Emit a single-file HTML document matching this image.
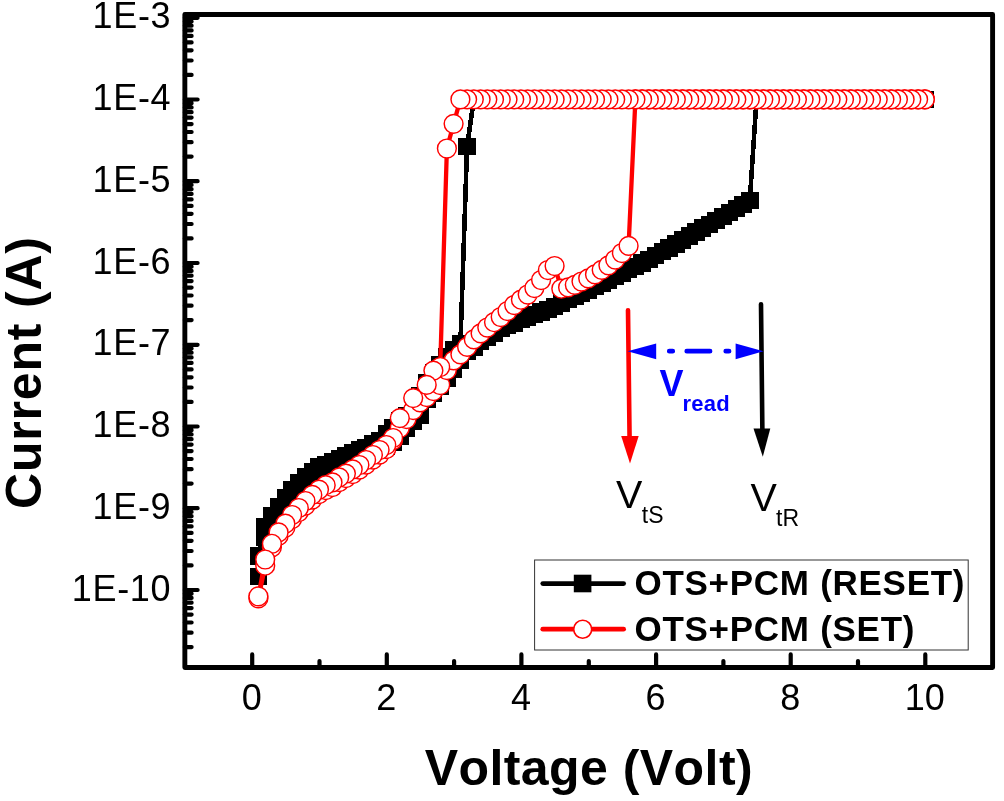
<!DOCTYPE html>
<html lang="en"><head><meta charset="utf-8"><title>OTS+PCM I-V</title>
<style>html,body{margin:0;padding:0;background:#fff}body{width:1004px;height:801px;overflow:hidden}svg{display:block}</style>
</head><body>
<svg width="1004" height="801" viewBox="0 0 1004 801">
<rect x="0" y="0" width="1004" height="801" fill="#fff"/>
<g shape-rendering="crispEdges">
<polyline fill="none" stroke="#000" stroke-width="4.6" stroke-linejoin="round" points="258.4,576.6 265.2,537.0 271.9,529.5 278.6,522.0 285.4,514.5 292.1,507.0 298.8,499.5 305.5,492.0 312.3,484.5 319.0,477.0 325.7,473.9 332.5,470.8 339.2,467.7 345.9,464.6 352.7,461.5 359.4,458.4 366.1,455.3 372.9,452.2 379.6,449.1 386.3,446.0 393.1,442.0 399.8,436.0 406.5,428.0 413.2,421.0 420.0,415.6 426.7,399.6 433.4,392.8 440.2,386.0 446.9,378.6 453.6,369.0 460.4,360.0 467.1,351.0 473.8,347.5 480.6,341.0 487.3,337.0 494.0,333.0 500.7,328.5 507.5,325.5 514.2,323.0 520.9,319.5 527.7,317.0 534.4,314.5 541.1,312.0 547.9,309.5 554.6,306.2 561.3,302.9 568.1,299.6 574.8,296.4 581.5,293.1 588.2,289.8 595.0,286.5 601.7,283.1 608.4,279.8 615.2,276.4 621.9,273.0 628.6,269.6 635.4,266.2 642.1,262.9 648.8,259.5 655.6,255.6 662.3,251.7 669.0,247.7 675.8,243.8 682.5,239.9 689.2,236.0 695.9,232.1 702.7,228.1 709.4,224.2 716.1,220.3 722.9,216.4 729.6,212.5 736.3,208.5 743.1,204.6 749.8,200.7 756.5,99.4 763.3,99.4 770.0,99.4 776.7,99.4 783.4,99.4 790.2,99.4 796.9,99.4 803.6,99.4 810.4,99.4 817.1,99.4 823.8,99.4 830.6,99.4 837.3,99.4 844.0,99.4 850.8,99.4 857.5,99.4 864.2,99.4 871.0,99.4 877.7,99.4 884.4,99.4 891.1,99.4 897.9,99.4 904.6,99.4 911.3,99.4 918.1,99.4 924.8,99.4 924.8,99.4 918.1,99.4 911.3,99.4 904.6,99.4 897.9,99.4 891.1,99.4 884.4,99.4 877.7,99.4 871.0,99.4 864.2,99.4 857.5,99.4 850.8,99.4 844.0,99.4 837.3,99.4 830.6,99.4 823.8,99.4 817.1,99.4 810.4,99.4 803.6,99.4 796.9,99.4 790.2,99.4 783.4,99.4 776.7,99.4 770.0,99.4 763.3,99.4 756.5,99.4 749.8,99.4 743.1,99.4 736.3,99.4 729.6,99.4 722.9,99.4 716.1,99.4 709.4,99.4 702.7,99.4 695.9,99.4 689.2,99.4 682.5,99.4 675.8,99.4 669.0,99.4 662.3,99.4 655.6,99.4 648.8,99.4 642.1,99.4 635.4,99.4 628.6,99.4 621.9,99.4 615.2,99.4 608.4,99.4 601.7,99.4 595.0,99.4 588.2,99.4 581.5,99.4 574.8,99.4 568.1,99.4 561.3,99.4 554.6,99.4 547.9,99.4 541.1,99.4 534.4,99.4 527.7,99.4 520.9,99.4 514.2,99.4 507.5,99.4 500.7,99.4 494.0,99.4 487.3,99.4 480.6,99.4 473.8,99.4 467.1,146.3 460.4,344.0 453.6,350.0 446.9,357.0 440.2,365.0 433.4,373.0 426.7,382.4 420.0,395.5 413.2,405.0 406.5,415.6 399.8,421.0 393.1,428.0 386.3,434.0 379.6,440.4 372.9,444.0 366.1,447.3 359.4,450.0 352.7,452.8 345.9,455.5 339.2,458.3 332.5,461.5 325.7,464.6 319.0,467.0 312.3,472.0 305.5,476.9 298.8,482.4 292.1,489.3 285.4,498.0 278.6,506.3 271.9,515.9 265.2,526.9 258.4,555.8"/>
<path fill="#000" d="M249.7 567.9h17.5v17.5h-17.5zM256.4 528.2h17.5v17.5h-17.5zM263.1 520.8h17.5v17.5h-17.5zM269.9 513.2h17.5v17.5h-17.5zM276.6 505.8h17.5v17.5h-17.5zM283.3 498.2h17.5v17.5h-17.5zM290.1 490.8h17.5v17.5h-17.5zM296.8 483.2h17.5v17.5h-17.5zM303.5 475.8h17.5v17.5h-17.5zM310.3 468.2h17.5v17.5h-17.5zM317.0 465.1h17.5v17.5h-17.5zM323.7 462.1h17.5v17.5h-17.5zM330.5 458.9h17.5v17.5h-17.5zM337.2 455.9h17.5v17.5h-17.5zM343.9 452.8h17.5v17.5h-17.5zM350.6 449.6h17.5v17.5h-17.5zM357.4 446.6h17.5v17.5h-17.5zM364.1 443.4h17.5v17.5h-17.5zM370.8 440.4h17.5v17.5h-17.5zM377.6 437.2h17.5v17.5h-17.5zM384.3 433.2h17.5v17.5h-17.5zM391.0 427.2h17.5v17.5h-17.5zM397.8 419.2h17.5v17.5h-17.5zM404.5 412.2h17.5v17.5h-17.5zM411.2 406.9h17.5v17.5h-17.5zM418.0 390.9h17.5v17.5h-17.5zM424.7 384.1h17.5v17.5h-17.5zM431.4 377.2h17.5v17.5h-17.5zM438.1 369.9h17.5v17.5h-17.5zM444.9 360.2h17.5v17.5h-17.5zM451.6 351.2h17.5v17.5h-17.5zM458.3 342.2h17.5v17.5h-17.5zM465.1 338.8h17.5v17.5h-17.5zM471.8 332.2h17.5v17.5h-17.5zM478.5 328.2h17.5v17.5h-17.5zM485.3 324.2h17.5v17.5h-17.5zM492.0 319.8h17.5v17.5h-17.5zM498.7 316.8h17.5v17.5h-17.5zM505.5 314.2h17.5v17.5h-17.5zM512.2 310.8h17.5v17.5h-17.5zM518.9 308.2h17.5v17.5h-17.5zM525.7 305.8h17.5v17.5h-17.5zM532.4 303.2h17.5v17.5h-17.5zM539.1 300.8h17.5v17.5h-17.5zM545.8 297.5h17.5v17.5h-17.5zM552.6 294.2h17.5v17.5h-17.5zM559.3 290.9h17.5v17.5h-17.5zM566.0 287.6h17.5v17.5h-17.5zM572.8 284.3h17.5v17.5h-17.5zM579.5 281.0h17.5v17.5h-17.5zM586.2 277.8h17.5v17.5h-17.5zM593.0 274.4h17.5v17.5h-17.5zM599.7 271.0h17.5v17.5h-17.5zM606.4 267.6h17.5v17.5h-17.5zM613.2 264.2h17.5v17.5h-17.5zM619.9 260.9h17.5v17.5h-17.5zM626.6 257.5h17.5v17.5h-17.5zM633.3 254.1h17.5v17.5h-17.5zM640.1 250.8h17.5v17.5h-17.5zM646.8 246.8h17.5v17.5h-17.5zM653.5 242.9h17.5v17.5h-17.5zM660.3 239.0h17.5v17.5h-17.5zM667.0 235.1h17.5v17.5h-17.5zM673.7 231.2h17.5v17.5h-17.5zM680.5 227.2h17.5v17.5h-17.5zM687.2 223.3h17.5v17.5h-17.5zM693.9 219.4h17.5v17.5h-17.5zM700.7 215.5h17.5v17.5h-17.5zM707.4 211.6h17.5v17.5h-17.5zM714.1 207.6h17.5v17.5h-17.5zM720.9 203.7h17.5v17.5h-17.5zM727.6 199.8h17.5v17.5h-17.5zM734.3 195.9h17.5v17.5h-17.5zM741.0 191.9h17.5v17.5h-17.5zM747.8 90.7h17.5v17.5h-17.5zM754.5 90.7h17.5v17.5h-17.5zM761.2 90.7h17.5v17.5h-17.5zM768.0 90.7h17.5v17.5h-17.5zM774.7 90.7h17.5v17.5h-17.5zM781.4 90.7h17.5v17.5h-17.5zM788.2 90.7h17.5v17.5h-17.5zM794.9 90.7h17.5v17.5h-17.5zM801.6 90.7h17.5v17.5h-17.5zM808.4 90.7h17.5v17.5h-17.5zM815.1 90.7h17.5v17.5h-17.5zM821.8 90.7h17.5v17.5h-17.5zM828.5 90.7h17.5v17.5h-17.5zM835.3 90.7h17.5v17.5h-17.5zM842.0 90.7h17.5v17.5h-17.5zM848.7 90.7h17.5v17.5h-17.5zM855.5 90.7h17.5v17.5h-17.5zM862.2 90.7h17.5v17.5h-17.5zM868.9 90.7h17.5v17.5h-17.5zM875.7 90.7h17.5v17.5h-17.5zM882.4 90.7h17.5v17.5h-17.5zM889.1 90.7h17.5v17.5h-17.5zM895.9 90.7h17.5v17.5h-17.5zM902.6 90.7h17.5v17.5h-17.5zM909.3 90.7h17.5v17.5h-17.5zM916.0 90.7h17.5v17.5h-17.5zM916.0 90.7h17.5v17.5h-17.5zM909.3 90.7h17.5v17.5h-17.5zM902.6 90.7h17.5v17.5h-17.5zM895.9 90.7h17.5v17.5h-17.5zM889.1 90.7h17.5v17.5h-17.5zM882.4 90.7h17.5v17.5h-17.5zM875.7 90.7h17.5v17.5h-17.5zM868.9 90.7h17.5v17.5h-17.5zM862.2 90.7h17.5v17.5h-17.5zM855.5 90.7h17.5v17.5h-17.5zM848.7 90.7h17.5v17.5h-17.5zM842.0 90.7h17.5v17.5h-17.5zM835.3 90.7h17.5v17.5h-17.5zM828.5 90.7h17.5v17.5h-17.5zM821.8 90.7h17.5v17.5h-17.5zM815.1 90.7h17.5v17.5h-17.5zM808.4 90.7h17.5v17.5h-17.5zM801.6 90.7h17.5v17.5h-17.5zM794.9 90.7h17.5v17.5h-17.5zM788.2 90.7h17.5v17.5h-17.5zM781.4 90.7h17.5v17.5h-17.5zM774.7 90.7h17.5v17.5h-17.5zM768.0 90.7h17.5v17.5h-17.5zM761.2 90.7h17.5v17.5h-17.5zM754.5 90.7h17.5v17.5h-17.5zM747.8 90.7h17.5v17.5h-17.5zM741.0 90.7h17.5v17.5h-17.5zM734.3 90.7h17.5v17.5h-17.5zM727.6 90.7h17.5v17.5h-17.5zM720.9 90.7h17.5v17.5h-17.5zM714.1 90.7h17.5v17.5h-17.5zM707.4 90.7h17.5v17.5h-17.5zM700.7 90.7h17.5v17.5h-17.5zM693.9 90.7h17.5v17.5h-17.5zM687.2 90.7h17.5v17.5h-17.5zM680.5 90.7h17.5v17.5h-17.5zM673.7 90.7h17.5v17.5h-17.5zM667.0 90.7h17.5v17.5h-17.5zM660.3 90.7h17.5v17.5h-17.5zM653.5 90.7h17.5v17.5h-17.5zM646.8 90.7h17.5v17.5h-17.5zM640.1 90.7h17.5v17.5h-17.5zM633.3 90.7h17.5v17.5h-17.5zM626.6 90.7h17.5v17.5h-17.5zM619.9 90.7h17.5v17.5h-17.5zM613.2 90.7h17.5v17.5h-17.5zM606.4 90.7h17.5v17.5h-17.5zM599.7 90.7h17.5v17.5h-17.5zM593.0 90.7h17.5v17.5h-17.5zM586.2 90.7h17.5v17.5h-17.5zM579.5 90.7h17.5v17.5h-17.5zM572.8 90.7h17.5v17.5h-17.5zM566.0 90.7h17.5v17.5h-17.5zM559.3 90.7h17.5v17.5h-17.5zM552.6 90.7h17.5v17.5h-17.5zM545.8 90.7h17.5v17.5h-17.5zM539.1 90.7h17.5v17.5h-17.5zM532.4 90.7h17.5v17.5h-17.5zM525.7 90.7h17.5v17.5h-17.5zM518.9 90.7h17.5v17.5h-17.5zM512.2 90.7h17.5v17.5h-17.5zM505.5 90.7h17.5v17.5h-17.5zM498.7 90.7h17.5v17.5h-17.5zM492.0 90.7h17.5v17.5h-17.5zM485.3 90.7h17.5v17.5h-17.5zM478.5 90.7h17.5v17.5h-17.5zM471.8 90.7h17.5v17.5h-17.5zM465.1 90.7h17.5v17.5h-17.5zM458.3 137.6h17.5v17.5h-17.5zM451.6 335.2h17.5v17.5h-17.5zM444.9 341.2h17.5v17.5h-17.5zM438.1 348.2h17.5v17.5h-17.5zM431.4 356.2h17.5v17.5h-17.5zM424.7 364.2h17.5v17.5h-17.5zM418.0 373.6h17.5v17.5h-17.5zM411.2 386.8h17.5v17.5h-17.5zM404.5 396.2h17.5v17.5h-17.5zM397.8 406.9h17.5v17.5h-17.5zM391.0 412.2h17.5v17.5h-17.5zM384.3 419.2h17.5v17.5h-17.5zM377.6 425.2h17.5v17.5h-17.5zM370.8 431.6h17.5v17.5h-17.5zM364.1 435.2h17.5v17.5h-17.5zM357.4 438.6h17.5v17.5h-17.5zM350.6 441.2h17.5v17.5h-17.5zM343.9 444.1h17.5v17.5h-17.5zM337.2 446.8h17.5v17.5h-17.5zM330.5 449.6h17.5v17.5h-17.5zM323.7 452.8h17.5v17.5h-17.5zM317.0 455.9h17.5v17.5h-17.5zM310.3 458.2h17.5v17.5h-17.5zM303.5 463.2h17.5v17.5h-17.5zM296.8 468.1h17.5v17.5h-17.5zM290.1 473.6h17.5v17.5h-17.5zM283.3 480.6h17.5v17.5h-17.5zM276.6 489.2h17.5v17.5h-17.5zM269.9 497.6h17.5v17.5h-17.5zM263.1 507.1h17.5v17.5h-17.5zM256.4 518.1h17.5v17.5h-17.5zM249.7 547.0h17.5v17.5h-17.5z"/>
</g>
<polyline fill="none" stroke="#f00" stroke-width="4.3" stroke-linejoin="round" points="258.4,598.4 265.2,565.7 271.9,547.3 278.6,535.9 285.4,527.5 292.1,519.0 298.8,512.0 305.5,505.5 312.3,499.5 319.0,494.0 325.7,490.0 332.5,487.0 339.2,482.0 345.9,478.0 352.7,474.0 359.4,469.5 366.1,464.5 372.9,459.5 379.6,454.5 386.3,449.0 393.1,440.0 399.8,428.0 406.5,419.0 413.2,410.0 420.0,402.4 426.7,397.0 433.4,391.0 440.2,385.0 446.9,370.0 453.6,360.4 460.4,354.4 467.1,346.9 473.8,339.4 480.6,333.4 487.3,327.5 494.0,322.2 500.7,317.0 507.5,311.0 514.2,305.0 520.9,299.7 527.7,294.5 534.4,288.0 541.1,280.0 547.9,270.0 554.6,266.0 561.3,288.7 568.1,287.4 574.8,284.8 581.5,281.5 588.2,278.3 595.0,274.4 601.7,269.9 608.4,265.3 615.2,259.5 621.9,253.0 628.6,245.9 635.4,99.4 642.1,99.4 648.8,99.4 655.6,99.4 662.3,99.4 669.0,99.4 675.8,99.4 682.5,99.4 689.2,99.4 695.9,99.4 702.7,99.4 709.4,99.4 716.1,99.4 722.9,99.4 729.6,99.4 736.3,99.4 743.1,99.4 749.8,99.4 756.5,99.4 763.3,99.4 770.0,99.4 776.7,99.4 783.4,99.4 790.2,99.4 796.9,99.4 803.6,99.4 810.4,99.4 817.1,99.4 823.8,99.4 830.6,99.4 837.3,99.4 844.0,99.4 850.8,99.4 857.5,99.4 864.2,99.4 871.0,99.4 877.7,99.4 884.4,99.4 891.1,99.4 897.9,99.4 904.6,99.4 911.3,99.4 918.1,99.4 924.8,99.4 924.8,99.4 918.1,99.4 911.3,99.4 904.6,99.4 897.9,99.4 891.1,99.4 884.4,99.4 877.7,99.4 871.0,99.4 864.2,99.4 857.5,99.4 850.8,99.4 844.0,99.4 837.3,99.4 830.6,99.4 823.8,99.4 817.1,99.4 810.4,99.4 803.6,99.4 796.9,99.4 790.2,99.4 783.4,99.4 776.7,99.4 770.0,99.4 763.3,99.4 756.5,99.4 749.8,99.4 743.1,99.4 736.3,99.4 729.6,99.4 722.9,99.4 716.1,99.4 709.4,99.4 702.7,99.4 695.9,99.4 689.2,99.4 682.5,99.4 675.8,99.4 669.0,99.4 662.3,99.4 655.6,99.4 648.8,99.4 642.1,99.4 635.4,99.4 628.6,99.4 621.9,99.4 615.2,99.4 608.4,99.4 601.7,99.4 595.0,99.4 588.2,99.4 581.5,99.4 574.8,99.4 568.1,99.4 561.3,99.4 554.6,99.4 547.9,99.4 541.1,99.4 534.4,99.4 527.7,99.4 520.9,99.4 514.2,99.4 507.5,99.4 500.7,99.4 494.0,99.4 487.3,99.4 480.6,99.4 473.8,99.4 467.1,99.4 460.4,99.4 453.6,123.8 446.9,148.5 440.2,367.0 433.4,370.6 426.7,384.9 413.2,398.1 399.8,418.1 393.1,438.0 386.3,445.0 379.6,450.0 372.9,455.0 366.1,460.0 359.4,465.0 352.7,469.3 345.9,473.6 339.2,477.4 332.5,482.4 325.7,485.2 319.0,489.6 312.3,494.9 305.5,501.0 298.8,508.0 292.1,515.0 285.4,523.7 278.6,532.4 271.9,543.8 265.2,559.5 258.4,596.4"/>
<g fill="#fff" stroke="#f00" stroke-width="1.45">
<circle cx="258.4" cy="598.4" r="9.4"/>
<circle cx="265.2" cy="565.7" r="9.4"/>
<circle cx="271.9" cy="547.3" r="9.4"/>
<circle cx="278.6" cy="535.9" r="9.4"/>
<circle cx="285.4" cy="527.5" r="9.4"/>
<circle cx="292.1" cy="519.0" r="9.4"/>
<circle cx="298.8" cy="512.0" r="9.4"/>
<circle cx="305.5" cy="505.5" r="9.4"/>
<circle cx="312.3" cy="499.5" r="9.4"/>
<circle cx="319.0" cy="494.0" r="9.4"/>
<circle cx="325.7" cy="490.0" r="9.4"/>
<circle cx="332.5" cy="487.0" r="9.4"/>
<circle cx="339.2" cy="482.0" r="9.4"/>
<circle cx="345.9" cy="478.0" r="9.4"/>
<circle cx="352.7" cy="474.0" r="9.4"/>
<circle cx="359.4" cy="469.5" r="9.4"/>
<circle cx="366.1" cy="464.5" r="9.4"/>
<circle cx="372.9" cy="459.5" r="9.4"/>
<circle cx="379.6" cy="454.5" r="9.4"/>
<circle cx="386.3" cy="449.0" r="9.4"/>
<circle cx="393.1" cy="440.0" r="9.4"/>
<circle cx="399.8" cy="428.0" r="9.4"/>
<circle cx="406.5" cy="419.0" r="9.4"/>
<circle cx="413.2" cy="410.0" r="9.4"/>
<circle cx="420.0" cy="402.4" r="9.4"/>
<circle cx="426.7" cy="397.0" r="9.4"/>
<circle cx="433.4" cy="391.0" r="9.4"/>
<circle cx="440.2" cy="385.0" r="9.4"/>
<circle cx="446.9" cy="370.0" r="9.4"/>
<circle cx="453.6" cy="360.4" r="9.4"/>
<circle cx="460.4" cy="354.4" r="9.4"/>
<circle cx="467.1" cy="346.9" r="9.4"/>
<circle cx="473.8" cy="339.4" r="9.4"/>
<circle cx="480.6" cy="333.4" r="9.4"/>
<circle cx="487.3" cy="327.5" r="9.4"/>
<circle cx="494.0" cy="322.2" r="9.4"/>
<circle cx="500.7" cy="317.0" r="9.4"/>
<circle cx="507.5" cy="311.0" r="9.4"/>
<circle cx="514.2" cy="305.0" r="9.4"/>
<circle cx="520.9" cy="299.7" r="9.4"/>
<circle cx="527.7" cy="294.5" r="9.4"/>
<circle cx="534.4" cy="288.0" r="9.4"/>
<circle cx="541.1" cy="280.0" r="9.4"/>
<circle cx="547.9" cy="270.0" r="9.4"/>
<circle cx="554.6" cy="266.0" r="9.4"/>
<circle cx="561.3" cy="288.7" r="9.4"/>
<circle cx="568.1" cy="287.4" r="9.4"/>
<circle cx="574.8" cy="284.8" r="9.4"/>
<circle cx="581.5" cy="281.5" r="9.4"/>
<circle cx="588.2" cy="278.3" r="9.4"/>
<circle cx="595.0" cy="274.4" r="9.4"/>
<circle cx="601.7" cy="269.9" r="9.4"/>
<circle cx="608.4" cy="265.3" r="9.4"/>
<circle cx="615.2" cy="259.5" r="9.4"/>
<circle cx="621.9" cy="253.0" r="9.4"/>
<circle cx="628.6" cy="245.9" r="9.4"/>
<circle cx="635.4" cy="99.4" r="9.4"/>
<circle cx="642.1" cy="99.4" r="9.4"/>
<circle cx="648.8" cy="99.4" r="9.4"/>
<circle cx="655.6" cy="99.4" r="9.4"/>
<circle cx="662.3" cy="99.4" r="9.4"/>
<circle cx="669.0" cy="99.4" r="9.4"/>
<circle cx="675.8" cy="99.4" r="9.4"/>
<circle cx="682.5" cy="99.4" r="9.4"/>
<circle cx="689.2" cy="99.4" r="9.4"/>
<circle cx="695.9" cy="99.4" r="9.4"/>
<circle cx="702.7" cy="99.4" r="9.4"/>
<circle cx="709.4" cy="99.4" r="9.4"/>
<circle cx="716.1" cy="99.4" r="9.4"/>
<circle cx="722.9" cy="99.4" r="9.4"/>
<circle cx="729.6" cy="99.4" r="9.4"/>
<circle cx="736.3" cy="99.4" r="9.4"/>
<circle cx="743.1" cy="99.4" r="9.4"/>
<circle cx="749.8" cy="99.4" r="9.4"/>
<circle cx="756.5" cy="99.4" r="9.4"/>
<circle cx="763.3" cy="99.4" r="9.4"/>
<circle cx="770.0" cy="99.4" r="9.4"/>
<circle cx="776.7" cy="99.4" r="9.4"/>
<circle cx="783.4" cy="99.4" r="9.4"/>
<circle cx="790.2" cy="99.4" r="9.4"/>
<circle cx="796.9" cy="99.4" r="9.4"/>
<circle cx="803.6" cy="99.4" r="9.4"/>
<circle cx="810.4" cy="99.4" r="9.4"/>
<circle cx="817.1" cy="99.4" r="9.4"/>
<circle cx="823.8" cy="99.4" r="9.4"/>
<circle cx="830.6" cy="99.4" r="9.4"/>
<circle cx="837.3" cy="99.4" r="9.4"/>
<circle cx="844.0" cy="99.4" r="9.4"/>
<circle cx="850.8" cy="99.4" r="9.4"/>
<circle cx="857.5" cy="99.4" r="9.4"/>
<circle cx="864.2" cy="99.4" r="9.4"/>
<circle cx="871.0" cy="99.4" r="9.4"/>
<circle cx="877.7" cy="99.4" r="9.4"/>
<circle cx="884.4" cy="99.4" r="9.4"/>
<circle cx="891.1" cy="99.4" r="9.4"/>
<circle cx="897.9" cy="99.4" r="9.4"/>
<circle cx="904.6" cy="99.4" r="9.4"/>
<circle cx="911.3" cy="99.4" r="9.4"/>
<circle cx="918.1" cy="99.4" r="9.4"/>
<circle cx="924.8" cy="99.4" r="9.4"/>
<circle cx="924.8" cy="99.4" r="9.4"/>
<circle cx="918.1" cy="99.4" r="9.4"/>
<circle cx="911.3" cy="99.4" r="9.4"/>
<circle cx="904.6" cy="99.4" r="9.4"/>
<circle cx="897.9" cy="99.4" r="9.4"/>
<circle cx="891.1" cy="99.4" r="9.4"/>
<circle cx="884.4" cy="99.4" r="9.4"/>
<circle cx="877.7" cy="99.4" r="9.4"/>
<circle cx="871.0" cy="99.4" r="9.4"/>
<circle cx="864.2" cy="99.4" r="9.4"/>
<circle cx="857.5" cy="99.4" r="9.4"/>
<circle cx="850.8" cy="99.4" r="9.4"/>
<circle cx="844.0" cy="99.4" r="9.4"/>
<circle cx="837.3" cy="99.4" r="9.4"/>
<circle cx="830.6" cy="99.4" r="9.4"/>
<circle cx="823.8" cy="99.4" r="9.4"/>
<circle cx="817.1" cy="99.4" r="9.4"/>
<circle cx="810.4" cy="99.4" r="9.4"/>
<circle cx="803.6" cy="99.4" r="9.4"/>
<circle cx="796.9" cy="99.4" r="9.4"/>
<circle cx="790.2" cy="99.4" r="9.4"/>
<circle cx="783.4" cy="99.4" r="9.4"/>
<circle cx="776.7" cy="99.4" r="9.4"/>
<circle cx="770.0" cy="99.4" r="9.4"/>
<circle cx="763.3" cy="99.4" r="9.4"/>
<circle cx="756.5" cy="99.4" r="9.4"/>
<circle cx="749.8" cy="99.4" r="9.4"/>
<circle cx="743.1" cy="99.4" r="9.4"/>
<circle cx="736.3" cy="99.4" r="9.4"/>
<circle cx="729.6" cy="99.4" r="9.4"/>
<circle cx="722.9" cy="99.4" r="9.4"/>
<circle cx="716.1" cy="99.4" r="9.4"/>
<circle cx="709.4" cy="99.4" r="9.4"/>
<circle cx="702.7" cy="99.4" r="9.4"/>
<circle cx="695.9" cy="99.4" r="9.4"/>
<circle cx="689.2" cy="99.4" r="9.4"/>
<circle cx="682.5" cy="99.4" r="9.4"/>
<circle cx="675.8" cy="99.4" r="9.4"/>
<circle cx="669.0" cy="99.4" r="9.4"/>
<circle cx="662.3" cy="99.4" r="9.4"/>
<circle cx="655.6" cy="99.4" r="9.4"/>
<circle cx="648.8" cy="99.4" r="9.4"/>
<circle cx="642.1" cy="99.4" r="9.4"/>
<circle cx="635.4" cy="99.4" r="9.4"/>
<circle cx="628.6" cy="99.4" r="9.4"/>
<circle cx="621.9" cy="99.4" r="9.4"/>
<circle cx="615.2" cy="99.4" r="9.4"/>
<circle cx="608.4" cy="99.4" r="9.4"/>
<circle cx="601.7" cy="99.4" r="9.4"/>
<circle cx="595.0" cy="99.4" r="9.4"/>
<circle cx="588.2" cy="99.4" r="9.4"/>
<circle cx="581.5" cy="99.4" r="9.4"/>
<circle cx="574.8" cy="99.4" r="9.4"/>
<circle cx="568.1" cy="99.4" r="9.4"/>
<circle cx="561.3" cy="99.4" r="9.4"/>
<circle cx="554.6" cy="99.4" r="9.4"/>
<circle cx="547.9" cy="99.4" r="9.4"/>
<circle cx="541.1" cy="99.4" r="9.4"/>
<circle cx="534.4" cy="99.4" r="9.4"/>
<circle cx="527.7" cy="99.4" r="9.4"/>
<circle cx="520.9" cy="99.4" r="9.4"/>
<circle cx="514.2" cy="99.4" r="9.4"/>
<circle cx="507.5" cy="99.4" r="9.4"/>
<circle cx="500.7" cy="99.4" r="9.4"/>
<circle cx="494.0" cy="99.4" r="9.4"/>
<circle cx="487.3" cy="99.4" r="9.4"/>
<circle cx="480.6" cy="99.4" r="9.4"/>
<circle cx="473.8" cy="99.4" r="9.4"/>
<circle cx="467.1" cy="99.4" r="9.4"/>
<circle cx="460.4" cy="99.4" r="9.4"/>
<circle cx="453.6" cy="123.8" r="9.4"/>
<circle cx="446.9" cy="148.5" r="9.4"/>
<circle cx="440.2" cy="367.0" r="9.4"/>
<circle cx="433.4" cy="370.6" r="9.4"/>
<circle cx="426.7" cy="384.9" r="9.4"/>
<circle cx="413.2" cy="398.1" r="9.4"/>
<circle cx="399.8" cy="418.1" r="9.4"/>
<circle cx="393.1" cy="438.0" r="9.4"/>
<circle cx="386.3" cy="445.0" r="9.4"/>
<circle cx="379.6" cy="450.0" r="9.4"/>
<circle cx="372.9" cy="455.0" r="9.4"/>
<circle cx="366.1" cy="460.0" r="9.4"/>
<circle cx="359.4" cy="465.0" r="9.4"/>
<circle cx="352.7" cy="469.3" r="9.4"/>
<circle cx="345.9" cy="473.6" r="9.4"/>
<circle cx="339.2" cy="477.4" r="9.4"/>
<circle cx="332.5" cy="482.4" r="9.4"/>
<circle cx="325.7" cy="485.2" r="9.4"/>
<circle cx="319.0" cy="489.6" r="9.4"/>
<circle cx="312.3" cy="494.9" r="9.4"/>
<circle cx="305.5" cy="501.0" r="9.4"/>
<circle cx="298.8" cy="508.0" r="9.4"/>
<circle cx="292.1" cy="515.0" r="9.4"/>
<circle cx="285.4" cy="523.7" r="9.4"/>
<circle cx="278.6" cy="532.4" r="9.4"/>
<circle cx="271.9" cy="543.8" r="9.4"/>
<circle cx="265.2" cy="559.5" r="9.4"/>
<circle cx="258.4" cy="596.4" r="9.4"/>
</g>
<rect x="184.85" y="14.5" width="807.75" height="653.0" fill="none" stroke="#000" stroke-width="4.9" stroke-linejoin="round"/>
<path d="M184.85 17.8H197.6M184.85 99.5H197.6M184.85 181.2H197.6M184.85 263.0H197.6M184.85 344.8H197.6M184.85 426.5H197.6M184.85 508.2H197.6M184.85 590.0H197.6M184.85 74.9H191.6M184.85 60.5H191.6M184.85 50.3H191.6M184.85 42.4H191.6M184.85 35.9H191.6M184.85 30.4H191.6M184.85 25.7H191.6M184.85 21.5H191.6M184.85 156.6H191.6M184.85 142.2H191.6M184.85 132.0H191.6M184.85 124.1H191.6M184.85 117.6H191.6M184.85 112.2H191.6M184.85 107.4H191.6M184.85 103.2H191.6M184.85 238.4H191.6M184.85 224.0H191.6M184.85 213.8H191.6M184.85 205.9H191.6M184.85 199.4H191.6M184.85 193.9H191.6M184.85 189.2H191.6M184.85 185.0H191.6M184.85 320.1H191.6M184.85 305.7H191.6M184.85 295.5H191.6M184.85 287.6H191.6M184.85 281.1H191.6M184.85 275.7H191.6M184.85 270.9H191.6M184.85 266.7H191.6M184.85 401.9H191.6M184.85 387.5H191.6M184.85 377.3H191.6M184.85 369.4H191.6M184.85 362.9H191.6M184.85 357.4H191.6M184.85 352.7H191.6M184.85 348.5H191.6M184.85 483.6H191.6M184.85 469.2H191.6M184.85 459.0H191.6M184.85 451.1H191.6M184.85 444.6H191.6M184.85 439.2H191.6M184.85 434.4H191.6M184.85 430.2H191.6M184.85 565.4H191.6M184.85 551.0H191.6M184.85 540.8H191.6M184.85 532.9H191.6M184.85 526.4H191.6M184.85 520.9H191.6M184.85 516.2H191.6M184.85 512.0H191.6M184.85 647.1H191.6M184.85 632.7H191.6M184.85 622.5H191.6M184.85 614.6H191.6M184.85 608.1H191.6M184.85 602.7H191.6M184.85 597.9H191.6M184.85 593.7H191.6M252.2 667.5V654.4M319.5 667.5V661M386.8 667.5V654.4M454.1 667.5V661M521.4 667.5V654.4M588.8 667.5V661M656.1 667.5V654.4M723.4 667.5V661M790.7 667.5V654.4M858.0 667.5V661M925.3 667.5V654.4" fill="none" stroke="#000" stroke-width="4.2" stroke-linecap="round"/>
<g font-family="'Liberation Sans',Arial,sans-serif" font-size="36" fill="#000" style="font-kerning:none">
<g text-anchor="end" letter-spacing="0.7">
<text x="171.3" y="28.4">1E-3</text>
<text x="171.3" y="110.1">1E-4</text>
<text x="171.3" y="191.8">1E-5</text>
<text x="171.3" y="273.6">1E-6</text>
<text x="171.3" y="355.4">1E-7</text>
<text x="171.3" y="437.1">1E-8</text>
<text x="171.3" y="518.9">1E-9</text>
<text x="171.3" y="600.6">1E-10</text>
</g><g text-anchor="middle">
<text x="251.7" y="710.4">0</text>
<text x="386.3" y="710.4">2</text>
<text x="520.9" y="710.4">4</text>
<text x="655.6" y="710.4">6</text>
<text x="790.2" y="710.4">8</text>
<text x="924.8" y="710.4">10</text>
</g></g>
<g font-family="'Liberation Sans',Arial,sans-serif" font-weight="bold" font-size="50" fill="#000" style="font-kerning:none">
<text x="588.9" y="784.8" text-anchor="middle" letter-spacing="0.45">Voltage (Volt)</text>
<text transform="translate(40.5 372.6) rotate(-90)" text-anchor="middle" letter-spacing="0.8">Current (A)</text>
</g>
<line x1="628" y1="310.3" x2="629.6" y2="440" stroke="#f00" stroke-width="4.6" stroke-linecap="round"/>
<polygon points="621.2,436 638.7,436 630,463.5" fill="#f00"/>
<line x1="761" y1="304.3" x2="762.4" y2="432" stroke="#000" stroke-width="4.6" stroke-linecap="round"/>
<polygon points="753.5,428.6 770.3,428.6 762.8,456.8" fill="#000"/>
<g fill="#00f" stroke="none">
<polygon points="627.5,351.2 656.2,343.5 656.2,359.2"/>
<polygon points="763.5,351.2 735.6,343.5 735.6,359.2"/>
</g>
<path d="M669.3 351.2H672.7M686.8 351.2H710M725.8 351.2H729" stroke="#00f" stroke-width="4.8" stroke-linecap="round" fill="none"/>
<g font-family="'Liberation Sans',Arial,sans-serif" font-weight="bold" fill="#00f" style="font-kerning:none">
<text x="659.5" y="395.7" font-size="36">V</text>
<text x="682.4" y="410.9" font-size="22" letter-spacing="0.3">read</text>
</g>
<g font-family="'Liberation Sans',Arial,sans-serif" fill="#000" style="font-kerning:none">
<text x="616" y="507.8" font-size="39.5">V</text><text x="641.8" y="523" font-size="23">tS</text>
<text x="750.4" y="510.8" font-size="39.5">V</text><text x="776" y="525.7" font-size="23">tR</text>
</g>
<rect x="534.6" y="560" width="433.6" height="90" fill="#fff" stroke="#333" stroke-width="1"/>
<line x1="542.8" y1="583.6" x2="623.6" y2="583.6" stroke="#000" stroke-width="4.8" stroke-linecap="round"/>
<rect x="573.8" y="574.7" width="17.6" height="17.6" fill="#000"/>
<line x1="542.8" y1="629.2" x2="623.6" y2="629.2" stroke="#f00" stroke-width="4.8" stroke-linecap="round"/>
<circle cx="582.7" cy="629.3" r="9" fill="#fff" stroke="#f00" stroke-width="1.6"/>
<g font-family="'Liberation Sans',Arial,sans-serif" font-weight="bold" font-size="35" fill="#000" style="font-kerning:none" letter-spacing="0.72">
<text x="634.5" y="594.8">OTS+PCM (RESET)</text>
<text x="634.5" y="641">OTS+PCM (SET)</text>
</g>
</svg>
</body></html>
